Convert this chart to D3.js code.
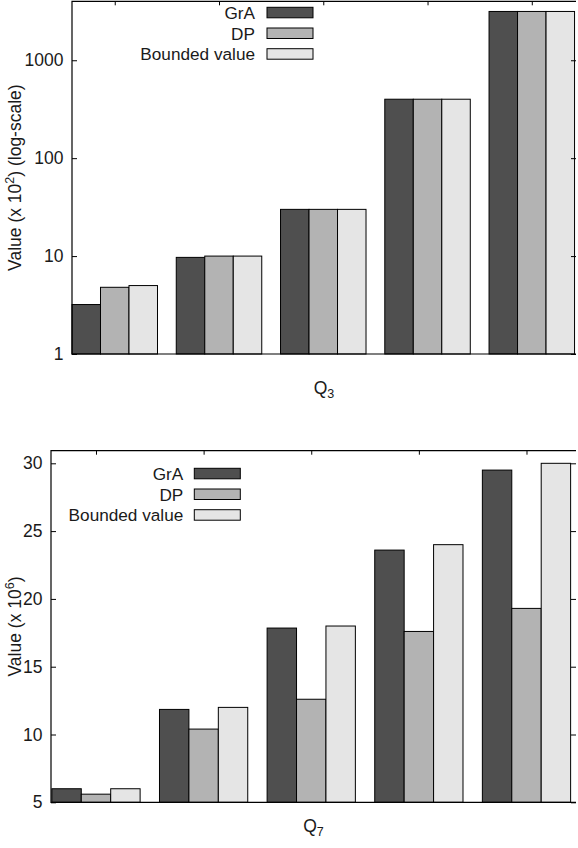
<!DOCTYPE html>
<html>
<head>
<meta charset="utf-8">
<script src="https://cdn.jsdelivr.net/npm/d3@7"></script>
<style>
  html, body { margin: 0; padding: 0; background: #fff; }
  svg { display: block; font-family: "Liberation Sans", Arial, sans-serif; }
  text { fill: #1a1a1a; }
</style>
</head>
<body>
<svg id="chart" width="578" height="848"></svg>
<script>
// ---- data ----
const categories = ["G1", "G2", "G3", "G4", "G5"];
const seriesNames = ["GrA", "DP", "Bounded value"];

// Top chart (Q3), values x 10^2, log scale
const q3GrA     = [3.2, 9.7, 30, 400, 3150];
const q3DP      = [4.8, 10, 30, 400, 3150];
const q3Bounded = [5.0, 10, 30, 400, 3150];
const q3Ticks   = [1, 10, 100, 1000];

// Bottom chart (Q7), values x 10^6
const q7GrA     = [6.0, 11.85, 17.85, 23.6, 29.5];
const q7DP      = [5.6, 10.4, 12.6, 17.6, 19.3];
const q7Bounded = [6.0, 12.0, 18.0, 24.0, 30.0];
const q7Ticks   = [5, 10, 15, 20, 25, 30];

// ---- styles ----
const colors = ["#4f4f4f", "#b3b3b3", "#e5e5e5"];
const FS = 17.5;
const svg = d3.select("#chart");

function drawPanel(cfg) {
  const g = svg.append("g");
  const {left, right, top, bottom} = cfg;
  const x = d3.scaleLinear().domain(cfg.xDomain).range([left, right]);
  const y = cfg.y;
  const half = 0.41, bw = (2 * half) / 3;
  const series = [cfg.a, cfg.b, cfg.c];

  // bars
  series.forEach((vals, s) => {
    g.selectAll(null).data(vals).enter().append("rect")
      .attr("x", (d, i) => x(i - half + s * bw))
      .attr("width", x(bw) - x(0))
      .attr("y", d => y(d))
      .attr("height", d => y(cfg.base) - y(d))
      .attr("fill", colors[s])
      .attr("stroke", "#000")
      .attr("stroke-width", 1);
  });

  // left axis
  const ay = g.append("g").attr("transform", `translate(${left},0)`)
    .call(d3.axisLeft(y).tickValues(cfg.ticks).tickFormat(d3.format("d")).tickSize(-5).tickPadding(8.5));
  ay.select(".domain").remove();
  ay.selectAll("line").attr("stroke", "#000");
  ay.selectAll("text").attr("font-size", FS).attr("fill", "#1a1a1a").attr("font-family", "Liberation Sans, Arial, sans-serif");

  // right mirror ticks
  const ar = g.append("g").attr("transform", `translate(${right},0)`)
    .call(d3.axisRight(y).tickValues(cfg.ticks).tickFormat("").tickSize(-5));
  ar.select(".domain").remove();
  ar.selectAll("line").attr("stroke", "#000");

  // top ticks
  const at = g.append("g").attr("transform", `translate(0,${top})`)
    .call(d3.axisTop(x).tickValues(d3.range(categories.length)).tickFormat("").tickSize(-4));
  at.select(".domain").remove();
  at.selectAll("line").attr("stroke", "#000");

  // border (left, top, bottom)
  g.append("path")
    .attr("d", `M${right},${top}H${left}V${bottom}H${right}`)
    .attr("fill", "none").attr("stroke", "#000").attr("stroke-width", 1.2);

  // legend
  const lg = g.append("g");
  seriesNames.forEach((n, s) => {
    const cy = cfg.legendY + s * 20.7;
    lg.append("rect").attr("x", cfg.legendRectX).attr("y", cy - 5.5)
      .attr("width", 46).attr("height", 10.5)
      .attr("fill", colors[s]).attr("stroke", "#000").attr("stroke-width", 1);
    lg.append("text").attr("x", cfg.legendTextX).attr("y", cy + 6)
      .attr("text-anchor", "end").attr("font-size", 17.2).text(n);
  });

  // y label
  const yl = g.append("text")
    .attr("transform", `translate(20.5,${(top + bottom) / 2}) rotate(-90)`)
    .attr("text-anchor", "middle").attr("font-size", FS);
  yl.append("tspan").text("Value (x 10");
  yl.append("tspan").attr("font-size", 12.5).attr("dy", -7).text(cfg.exp);
  yl.append("tspan").attr("dy", 7).text(")" + cfg.yExtra);

  // x label
  const xl = g.append("text")
    .attr("x", (left + right) / 2).attr("y", cfg.xLabelY)
    .attr("text-anchor", "middle").attr("font-size", FS);
  xl.append("tspan").text("Q");
  xl.append("tspan").attr("font-size", 12.5).attr("dy", 4).text(cfg.sub);
}

// Top panel
(function () {
  const top = 1.3, bottom = 354;
  const y = d3.scaleLog().domain([1, 4000]).range([bottom, top]);
  drawPanel({
    left: 72, right: 576, top, bottom,
    xDomain: [-0.41, 4.424],
    y, base: 1, ticks: q3Ticks,
    a: q3GrA, b: q3DP, c: q3Bounded,
    legendY: 12.8, legendRectX: 267, legendTextX: 255,
    exp: "2", yExtra: " (log-scale)", sub: "3", xLabelY: 394
  });
})();

// Bottom panel
(function () {
  const top = 450.7, bottom = 802.3;
  const y = d3.scaleLinear().domain([5, 30.93]).range([bottom, top]);
  drawPanel({
    left: 51, right: 576, top, bottom,
    xDomain: [-0.418, 4.46],
    y, base: 5, ticks: q7Ticks,
    a: q7GrA, b: q7DP, c: q7Bounded,
    legendY: 473.8, legendRectX: 194.3, legendTextX: 183.3,
    exp: "6", yExtra: "", sub: "7", xLabelY: 832
  });
})();
</script>
</body>
</html>
